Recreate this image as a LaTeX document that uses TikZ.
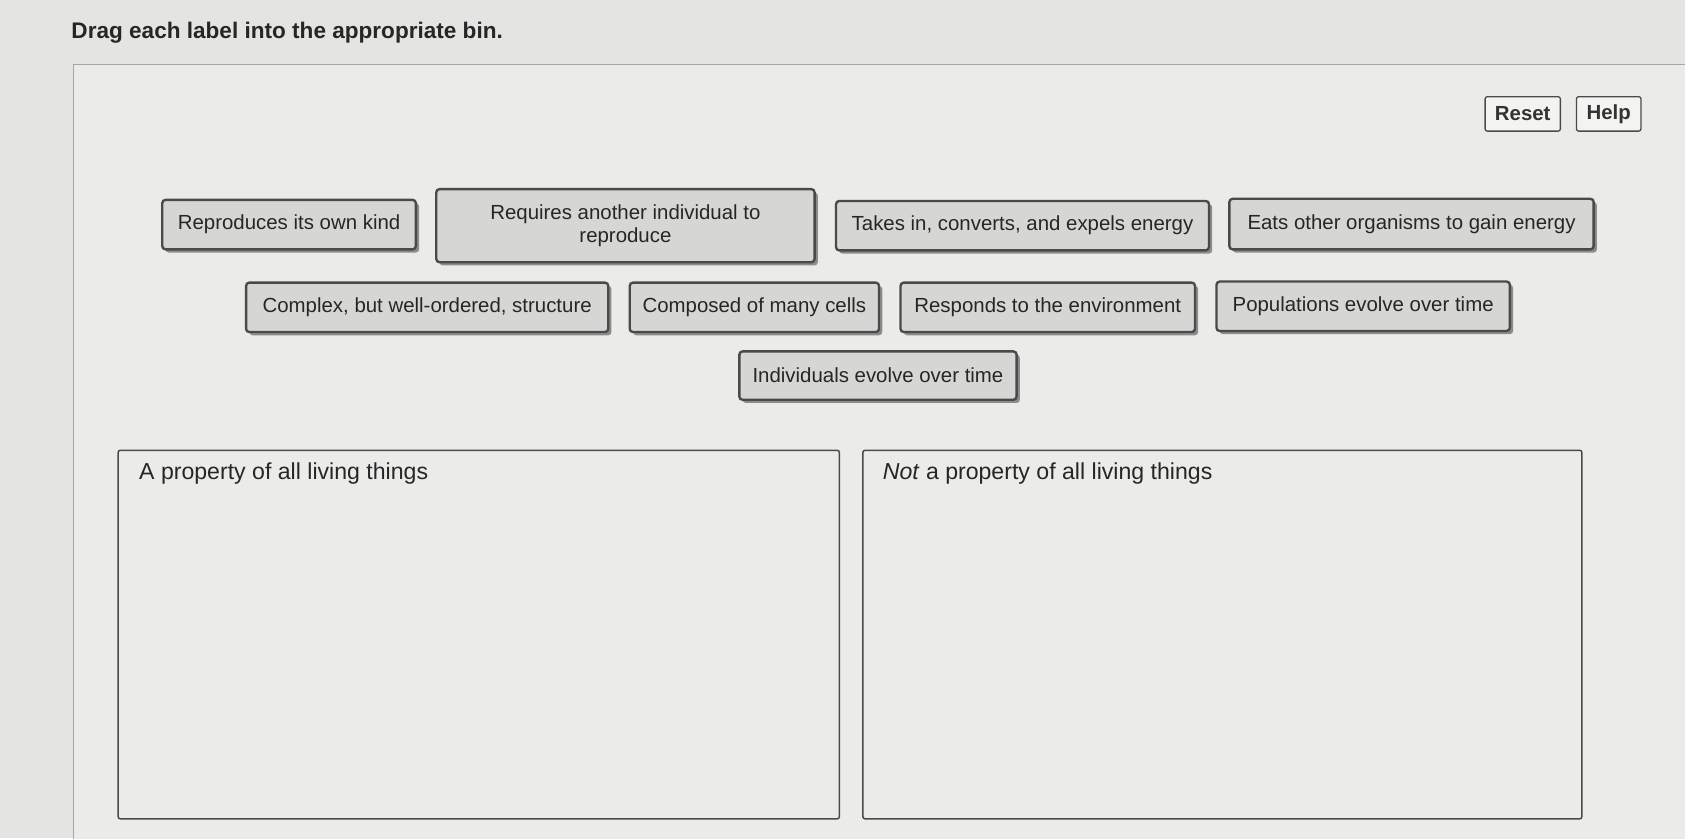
\documentclass[tikz,border=0pt]{standalone}
\usepackage{fontspec}
\setmainfont{Liberation Sans}
\definecolor{bg}{HTML}{E4E4E2}
\definecolor{panel}{HTML}{EBEBE9}
\definecolor{lab}{HTML}{D6D6D4}
\definecolor{edge}{HTML}{4A4A4A}
\begin{document}
\begin{tikzpicture}[x=1pt,y=-1pt,
  labelbox/.style={draw=edge,line width=2.2pt,fill=lab,rounded corners=3pt,
    font=\fontsize{19}{22}\selectfont,text=black!85,align=center},
  btn/.style={draw=edge,line width=1.2pt,fill=panel!60!white,rounded corners=2pt,
    font=\fontsize{19}{22}\selectfont\bfseries,text=black!80},
  bin/.style={draw=edge,line width=1.4pt,fill=panel,rounded corners=2pt},
  shadow/.style={fill=black!45,rounded corners=3pt}]
\useasboundingbox (0,0) rectangle (1568,780);
\fill[bg] (0,0) rectangle (1568,780);
\node[anchor=west,font=\fontsize{21}{25}\selectfont\bfseries,text=black!85] (title) at (63,30) {Drag each label into the appropriate bin.};
\draw[black!35,line width=1pt,fill=panel] (68,60) rectangle (1580,790);
\node[btn,minimum width=70pt,minimum height=32pt] (reset) at (1417,106) {Reset};
\node[btn,minimum width=60pt,minimum height=32pt] (help) at (1497,106) {Help};
\newcommand{\lbl}[6]{%
  \fill[shadow] (#2+3,#3+3) rectangle (#4+3,#5+3);
  \node[labelbox,minimum width=#4-#2,minimum height=#5-#3] (#1) at ({(#2+#4)/2},{(#3+#5)/2}) {#6};}
\lbl{l1}{151}{186}{387}{232}{Reproduces its own kind}
\lbl{l2}{406}{176}{758}{244}{Requires another individual to\\reproduce}
\lbl{l3}{778}{187}{1125}{233}{Takes in, converts, and expels energy}
\lbl{l4}{1144}{185}{1483}{232}{Eats other organisms to gain energy}
\lbl{l5}{229}{263}{566}{309}{Complex, but well-ordered, structure}
\lbl{l6}{586}{263}{818}{309}{Composed of many cells}
\lbl{l7}{838}{263}{1112}{309}{Responds to the environment}
\lbl{l8}{1132}{262}{1405}{308}{Populations evolve over time}
\lbl{l9}{688}{327}{946}{372}{Individuals evolve over time}
\draw[bin] (110,419) rectangle (781,762);
\draw[bin] (803,419) rectangle (1472,762);
\node[anchor=west,font=\fontsize{21.5}{25}\selectfont,text=black!85] (b1) at (126,441) {A property of all living things};
\node[anchor=west,font=\fontsize{21.5}{25}\selectfont,text=black!85] (b2) at (818,441) {\textit{Not} a property of all living things};
\end{tikzpicture}
\end{document}
